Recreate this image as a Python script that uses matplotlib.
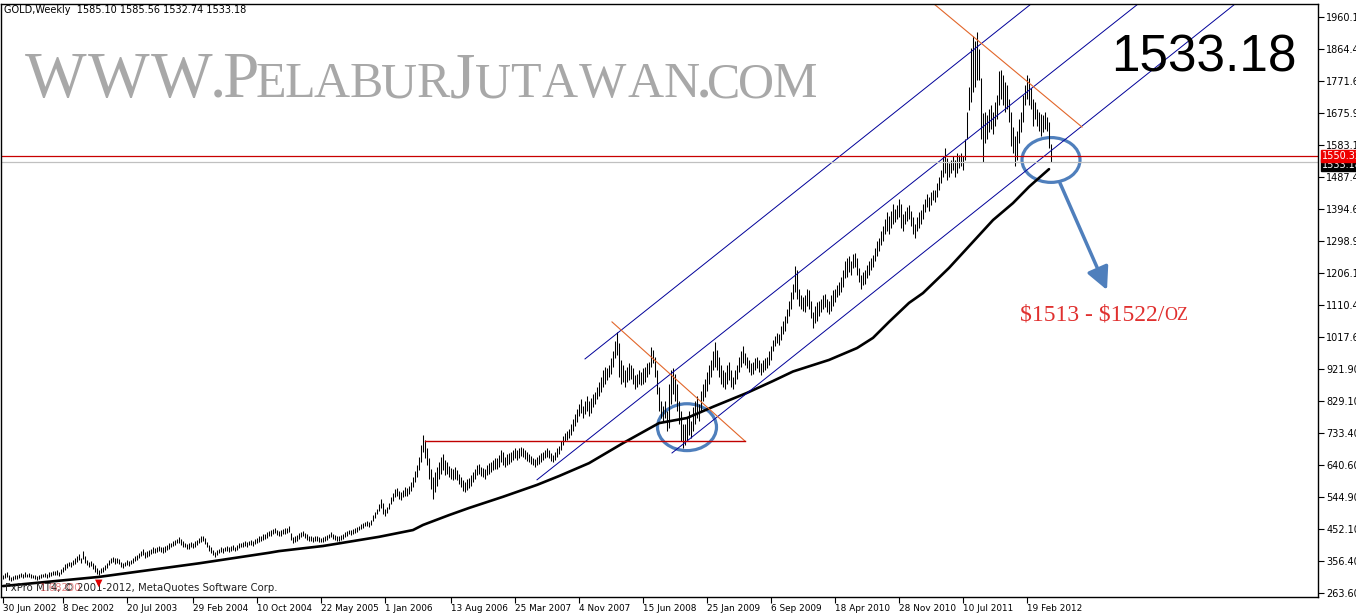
"""Gold weekly bars (MT4 style) with channel lines and annotations."""

import matplotlib
matplotlib.use("Agg")
import matplotlib.pyplot as plt
from matplotlib import patches
from matplotlib.transforms import IdentityTransform
from matplotlib.textpath import TextPath
from matplotlib.font_manager import FontProperties

# weekly lows / highs, bar index 0 = 30 Jun 2002
week_low = [
    305, 308, 312, 303, 300, 302, 306, 304, 308, 310,
    309, 312, 310, 311, 309, 307, 305, 303, 306, 308,
    310, 311, 309, 312, 314, 316, 317, 318, 315, 320,
    325, 330, 338, 342, 340, 345, 350, 356, 360, 352,
    365, 352, 345, 340, 342, 335, 326, 320, 318, 322,
    325, 330, 336, 345, 352, 355, 350, 352, 348, 340,
    338, 342, 345, 344, 348, 352, 358, 362, 366, 372,
    375, 368, 370, 374, 378, 382, 380, 384, 386, 383,
    380, 385, 390, 394, 398, 402, 406, 410, 412, 405,
    400, 398, 392, 394, 398, 396, 400, 405, 410, 414,
    418, 408, 398, 388, 382, 375, 370, 375, 380, 384,
    382, 386, 388, 384, 388, 390, 386, 390, 395, 398,
    400, 402, 398, 404, 406, 402, 408, 410, 414, 418,
    420, 422, 426, 430, 432, 436, 440, 434, 430, 432,
    436, 438, 440, 442, 420, 411, 415, 418, 424, 428,
    430, 425, 420, 418, 416, 414, 416, 418, 415, 413,
    415, 418, 420, 425, 428, 424, 420, 418, 416, 420,
    424, 428, 432, 436, 434, 438, 440, 444, 448, 452,
    456, 460, 462, 458, 465, 475, 485, 495, 505, 515,
    495, 490, 500, 510, 525, 535, 545, 548, 540, 538,
    545, 550, 548, 555, 565, 575, 590, 605, 625, 650,
    680, 660, 640, 600, 570, 541, 560, 580, 600, 615,
    625, 610, 615, 605, 600, 595, 600, 595, 585, 575,
    565, 560, 568, 572, 580, 590, 600, 612, 615, 608,
    605, 600, 610, 615, 620, 625, 630, 628, 635, 648,
    640, 635, 640, 645, 650, 655, 660, 655, 662, 668,
    665, 658, 652, 648, 645, 640, 636, 640, 645, 650,
    655, 660, 665, 660, 652, 648, 655, 665, 672, 685,
    700, 710, 715, 720, 728, 740, 755, 768, 785, 795,
    780, 790, 800, 785, 795, 810, 820, 835, 845, 855,
    870, 880, 890, 900, 910, 930, 955, 965, 900, 880,
    885, 870, 885, 890, 895, 880, 865, 870, 880, 875,
    880, 885, 900, 910, 930, 940, 900, 850, 800, 780,
    770, 780, 740, 750, 820, 850, 830, 800, 760, 710,
    690, 700, 710, 730, 720, 740, 760, 780, 770, 800,
    830, 840, 860, 880, 900, 920, 930, 920, 900, 880,
    870, 865, 880, 890, 870, 865, 880, 895, 915, 930,
    940, 935, 925, 915, 905, 910, 920, 925, 915, 905,
    915, 920, 925, 935, 950, 975, 990, 1000, 995, 1010,
    1025, 1035, 1060, 1080, 1100, 1130, 1150, 1130, 1110, 1100,
    1095, 1090, 1110, 1100, 1075, 1045, 1058, 1065, 1080, 1090,
    1100, 1105, 1090, 1085, 1095, 1110, 1120, 1135, 1140, 1150,
    1165, 1190, 1195, 1210, 1200, 1220, 1225, 1200, 1180, 1160,
    1170, 1175, 1190, 1200, 1215, 1225, 1240, 1255, 1270, 1290,
    1300, 1320, 1330, 1320, 1340, 1350, 1355, 1365, 1370, 1340,
    1330, 1350, 1360, 1365, 1345, 1320, 1308, 1330, 1340, 1350,
    1365, 1385, 1400, 1390, 1405, 1420, 1415, 1430, 1450, 1470,
    1490, 1500, 1480, 1490, 1500, 1510, 1490, 1500, 1515, 1520,
    1510, 1540, 1600, 1686, 1710, 1740, 1755, 1775, 1775, 1600,
    1532, 1590, 1600, 1620, 1630, 1615, 1640, 1660, 1700, 1720,
    1700, 1680, 1690, 1650, 1580, 1560, 1520, 1540, 1590, 1620,
    1650, 1700, 1720, 1700, 1690, 1640, 1660, 1640, 1625, 1610,
    1620, 1630, 1625, 1575, 1532.74,
]
week_high = [
    318, 322, 326, 318, 312, 314, 318, 316, 320, 322,
    320, 324, 321, 322, 320, 318, 316, 314, 317, 319,
    321, 322, 320, 324, 326, 327, 328, 330, 326, 334,
    340, 348, 352, 356, 354, 360, 367, 372, 378, 368,
    387, 372, 362, 356, 358, 352, 345, 336, 332, 336,
    340, 345, 352, 362, 368, 370, 366, 368, 364, 356,
    352, 356, 360, 358, 362, 366, 372, 376, 382, 388,
    392, 384, 386, 390, 394, 398, 396, 400, 402, 399,
    398, 402, 406, 410, 412, 416, 420, 424, 428, 422,
    416, 412, 408, 410, 414, 412, 416, 420, 426, 430,
    432, 426, 414, 404, 398, 390, 384, 390, 394, 398,
    396, 400, 402, 398, 402, 404, 400, 405, 410, 412,
    414, 416, 414, 418, 420, 418, 422, 426, 430, 432,
    436, 438, 442, 446, 450, 452, 455, 450, 446, 448,
    452, 455, 456, 461, 440, 428, 430, 434, 440, 442,
    445, 440, 436, 432, 430, 428, 430, 432, 428, 426,
    428, 432, 434, 438, 442, 438, 434, 431, 430, 434,
    438, 442, 446, 450, 448, 452, 454, 458, 462, 466,
    470, 474, 476, 472, 480, 492, 502, 512, 525, 540,
    528, 510, 518, 530, 545, 558, 570, 572, 565, 560,
    568, 575, 572, 580, 590, 605, 622, 640, 665, 700,
    729, 715, 690, 660, 630, 605, 620, 635, 650, 665,
    672, 655, 648, 638, 632, 628, 635, 625, 615, 605,
    595, 590, 598, 602, 610, 620, 630, 640, 645, 636,
    632, 628, 640, 647, 650, 655, 662, 660, 670, 685,
    678, 665, 672, 675, 680, 686, 690, 685, 692, 695,
    690, 685, 678, 672, 668, 662, 658, 664, 670, 675,
    680, 684, 690, 686, 676, 670, 680, 690, 698, 710,
    725, 735, 742, 748, 760, 775, 790, 805, 820, 835,
    815, 828, 845, 830, 838, 850, 855, 870, 885, 900,
    920, 930, 925, 935, 955, 975, 1005, 1032, 1000, 950,
    935, 920, 930, 940, 935, 925, 905, 910, 920, 915,
    925, 930, 940, 945, 988, 980, 960, 920, 870, 830,
    815, 830, 800, 880, 920, 927, 910, 880, 830, 800,
    760, 760, 780, 800, 770, 810, 830, 845, 820, 860,
    880, 895, 915, 935, 950, 975, 1004, 980, 960, 935,
    920, 915, 935, 945, 920, 900, 920, 935, 960, 975,
    990, 970, 960, 950, 940, 945, 955, 960, 950, 940,
    950, 955, 960, 975, 990, 1010, 1020, 1030, 1025, 1050,
    1065, 1080, 1100, 1125, 1150, 1175, 1226, 1215, 1160, 1140,
    1135, 1140, 1160, 1155, 1125, 1090, 1110, 1120, 1125, 1130,
    1140, 1145, 1130, 1125, 1140, 1155, 1160, 1170, 1180, 1194,
    1215, 1240, 1250, 1255, 1240, 1262, 1265, 1250, 1220, 1200,
    1210, 1215, 1230, 1240, 1250, 1260, 1280, 1300, 1310, 1330,
    1345, 1365, 1385, 1375, 1390, 1410, 1395, 1405, 1425, 1410,
    1380, 1390, 1400, 1405, 1390, 1370, 1350, 1370, 1385, 1392,
    1410, 1425, 1440, 1430, 1445, 1450, 1450, 1470, 1490, 1510,
    1550, 1575, 1545, 1530, 1540, 1550, 1540, 1560, 1555, 1560,
    1550, 1600, 1680, 1755, 1870, 1905, 1890, 1916, 1865, 1780,
    1677, 1680, 1670, 1690, 1700, 1680, 1710, 1730, 1800, 1804,
    1790, 1770, 1760, 1720, 1680, 1636, 1610, 1625, 1660, 1680,
    1730, 1760, 1790, 1780, 1750, 1720, 1710, 1690, 1680, 1675,
    1670, 1680, 1665, 1650, 1585.56,
]

# moving average line (at bar indices)
ma_idx = [0, 48, 98, 133, 138, 160, 188, 205, 210, 223, 233, 250, 267, 278,
          293, 310, 328, 342, 355, 372, 385, 395, 413, 427, 435, 443, 453,
          460, 473, 495, 505, 513, 523]
ma_val = [284, 311, 351, 382, 387, 402, 429, 449, 464, 493, 514, 547, 582, 608,
          646, 705, 764, 779, 812, 853, 888, 916, 950, 985, 1015, 1062, 1118,
          1147, 1221, 1362, 1412, 1460, 1512]

tick_idx = [0, 30, 62, 95, 127, 159, 191, 224, 256, 288, 320, 352, 384, 416,
            448, 480, 512]
tick_labels = ["30 Jun 2002", "8 Dec 2002", "20 Jul 2003", "29 Feb 2004",
               "10 Oct 2004", "22 May 2005", "1 Jan 2006", "13 Aug 2006",
               "25 Mar 2007", "4 Nov 2007", "15 Jun 2008", "25 Jan 2009",
               "6 Sep 2009", "18 Apr 2010", "28 Nov 2010", "10 Jul 2011",
               "19 Feb 2012"]
price_ticks = [1960.10, 1864.40, 1771.60, 1675.90, 1583.10, 1487.40, 1394.60,
               1298.90, 1206.10, 1110.40, 1017.60, 921.90, 829.10, 733.40,
               640.60, 544.90, 452.10, 356.40, 263.60]

# drawn objects (bar index, price)
channel_lines = [([291, 516.5], [953, 2010]),
                 ([267, 570], [597, 2010]),
                 ([334.5, 618.5], [676, 2010])]
down_lines = [([304.5, 371], [1062, 711]),
              ([466, 539.5], [1996, 1636])]
support_line = ([211, 371], [712, 712])
red_level = 1550.32
bid_level = 1533.18
last_ohlc = "GOLD,Weekly  1585.10 1585.56 1532.74 1533.18"

W, H = 1356, 613
fig = plt.figure(figsize=(W / 100, H / 100), dpi=100)
ax = fig.add_axes([1 / W, 16 / H, 1317 / W, 593 / H])
ax.set_xlim(-1, 657.5)
ax.set_ylim(251.8, 1998.4)

ax.vlines(range(len(week_low)), week_low, week_high, color="black", lw=0.75)
ax.plot(ma_idx, ma_val, color="black", lw=1.9, solid_capstyle="round",
        solid_joinstyle="round")

for xs, ys in channel_lines:
    ax.plot(xs, ys, color="#000099", lw=0.7)
for xs, ys in down_lines:
    ax.plot(xs, ys, color="#e2662a", lw=0.8)
ax.plot(*support_line, color="#c00000", lw=1.0)
ax.axhline(red_level, color="#c80000", lw=0.9)
ax.axhline(bid_level, color="#c0c0c0", lw=0.9)

blue = "#4f7fbc"
ax.add_patch(patches.Ellipse((342, 752), 29.5, 138, fill=False, ec=blue, lw=2.3))
ax.add_patch(patches.Ellipse((524, 1539), 29, 132, fill=False, ec=blue, lw=2.3))
ax.annotate("", xy=(552, 1156), xytext=(528.5, 1471),
            arrowprops=dict(arrowstyle="-|>", color=blue, lw=2.5,
                            mutation_scale=34, shrinkA=0, shrinkB=0))

# axes styling
for sp in ax.spines.values():
    sp.set_color("black")
    sp.set_linewidth(1.0)
ax.yaxis.tick_right()
ax.set_yticks(price_ticks)
ax.set_yticklabels([f"{p:.2f}" for p in price_ticks])
ax.set_xticks(tick_idx)
ax.set_xticklabels(tick_labels, ha="left")
ax.tick_params(axis="y", direction="out", length=4, width=0.8, pad=2,
               labelsize=7, colors="black")
ax.tick_params(axis="x", direction="out", length=4, width=0.8, pad=1,
               labelsize=6.4, colors="black")

# price labels on the axis
ax.annotate(f"{bid_level:.2f}", xy=(1.0, bid_level), xycoords=("axes fraction", "data"),
            xytext=(3, -2), textcoords="offset points", va="center", ha="left",
            fontsize=7, color="white", annotation_clip=False,
            bbox=dict(boxstyle="square,pad=0.12", fc="black", ec="black"))
ax.annotate(f"{red_level:.2f}", xy=(1.0, red_level), xycoords=("axes fraction", "data"),
            xytext=(3, 0), textcoords="offset points", va="center", ha="left",
            fontsize=7, color="white", annotation_clip=False, zorder=10,
            bbox=dict(boxstyle="square,pad=0.12", fc="#ee0000", ec="#ee0000"))

ident = IdentityTransform()

# watermark in small caps, letter by letter
wm_chars = "WWW.PELABURJUTAWAN.COM"
wm_big = set([0, 1, 2, 3, 4, 11, 18])
serif = FontProperties(family="Liberation Serif")
sizes = []
widths = []
offs = []
for k, ch in enumerate(wm_chars):
    sz = 47 if k in wm_big else 36
    px = sz * 100 / 72
    ext = TextPath((0, 0), ch, size=px, prop=serif).get_extents()
    sizes.append(sz)
    widths.append(ext.width)
    offs.append(ext.x0)
gap = (790 - sum(widths)) / (len(wm_chars) - 1)
xpos = 25
for ch, sz, w, o in zip(wm_chars, sizes, widths, offs):
    fig.text(xpos - o, H - 97, ch, transform=ident, fontsize=sz,
             family="Liberation Serif", color="#a8a8a8", va="baseline", ha="left")
    xpos += w + gap

fig.text(1111, H - 72, "1533.18", transform=ident, fontsize=37,
         family="Liberation Sans", color="black", va="baseline", ha="left")

fig.text(4, H - 10, last_ohlc, transform=ident, fontsize=7, color="black",
         va="center", ha="left")

fig.text(5, H - 588, "FxPro MT4, \u00a9 2001-2012, MetaQuotes Software Corp.",
         transform=ident, fontsize=7.3, color="#202020", va="center", ha="left")
fig.text(40, H - 588, "1.68200", transform=ident, fontsize=7.3, color="#d03030",
         alpha=0.6, va="center", ha="left")
fig.text(99, H - 583, "\u25bc", transform=ident, fontsize=7, color="#e00000",
         va="center", ha="center")

# target range text
red = "#e0302f"
t1 = fig.text(1020, H - 320, "$1513 - $1522/", transform=ident, fontsize=17,
              family="Liberation Serif", color=red, va="baseline", ha="left",
              parse_math=False)
fig.canvas.draw()
bb = t1.get_window_extent()
fig.text(bb.x1, H - 320, "OZ", transform=ident, fontsize=13,
         family="Liberation Serif", color=red, va="baseline", ha="left")

fig.savefig("out.png", dpi=100)
